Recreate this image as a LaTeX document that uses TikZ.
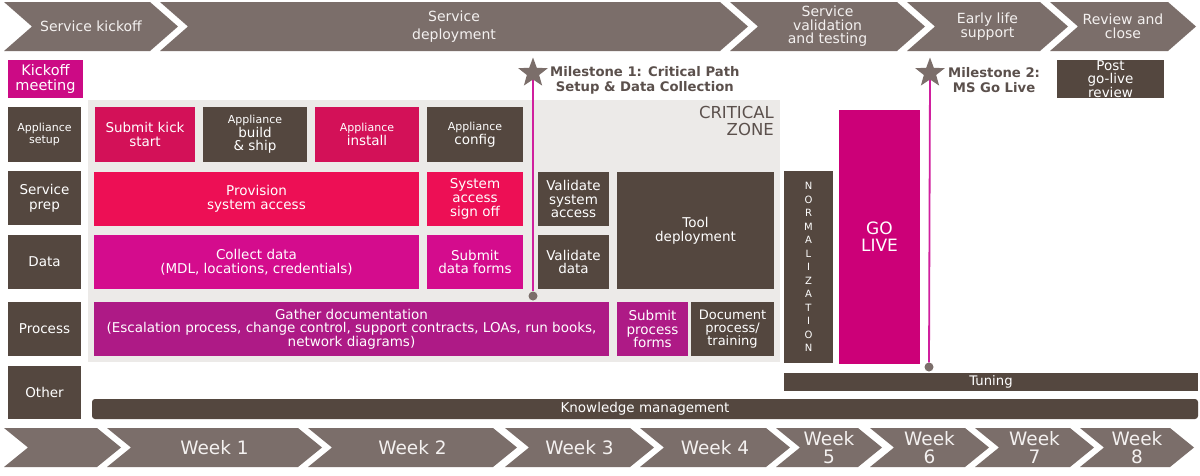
\documentclass[tikz,border=0pt]{standalone}
\usepackage{fontspec}
\setmainfont{DejaVu Sans}
\usetikzlibrary{shapes.geometric}
\definecolor{chevc}{HTML}{7B6E6A}
\definecolor{dkc}{HTML}{54473F}
\definecolor{crimc}{HTML}{D31158}
\definecolor{redc}{HTML}{ED0F55}
\definecolor{magc}{HTML}{D40C8D}
\definecolor{purc}{HTML}{AE1A86}
\definecolor{kickc}{HTML}{CC0A85}
\definecolor{goc}{HTML}{CC0078}
\definecolor{zonec}{HTML}{ECEAE8}
\definecolor{msline}{HTML}{D01F9E}
\definecolor{mstxt}{HTML}{5B504C}
\definecolor{lighttxt}{HTML}{F4F1F0}
\newcommand\smalltxt{\fontsize{11}{12}\selectfont}
\newcommand\chev[8]{%
 \pgfmathsetmacro\cmid{(#4+#5)/2}%
 \pgfmathsetmacro\ctip{#3+#6}%
 \pgfmathsetmacro\cnotch{#2+#6}%
 \pgfmathsetmacro\ccx{(#2+#3+#6)/2}%
 \fill[chevc] (#2,#4) -- (#3,#4) -- (\ctip,\cmid) -- (#3,#5) -- (#2,#5) -- (\cnotch,\cmid) -- cycle;
 \node[#8] (#1) at (\ccx,\cmid) {#7};}
\newcommand\bx[7]{%
 \pgfmathsetmacro\bw{#4-#2}\pgfmathsetmacro\bh{#5-#3}%
 \node[#6, minimum width=\bw pt, minimum height=\bh pt, anchor=north west] (#1) at (#2,#3) {#7};}
\begin{document}
\begin{tikzpicture}[x=1pt,y=-1pt,
 chevtxt/.style={text=lighttxt, align=center, inner sep=0pt, font=\fontsize{14}{13.5}\selectfont},
 wk/.style={chevtxt, font=\fontsize{18.5}{18}\selectfont},
 bxs/.style={inner sep=0pt, outer sep=0pt, align=center, text=white, font=\fontsize{13.5}{13.7}\selectfont},
 dk/.style={bxs, fill=dkc},
 crim/.style={bxs, fill=crimc},
 rd/.style={bxs, fill=redc},
 mg/.style={bxs, fill=magc},
 pu/.style={bxs, fill=purc},
 msl/.style={msline, line width=1.8pt},
 mstar/.style={star, star points=5, star point ratio=2.4, fill=chevc, minimum size=31pt, inner sep=0pt},
 mdot/.style={circle, fill=chevc, minimum size=9pt, inner sep=0pt},
 mst/.style={text=mstxt, align=center, inner sep=0pt, font=\bfseries\fontsize{13.2}{15}\selectfont}
]
\useasboundingbox (0,0) rectangle (1200,475);
\fill[white] (0,0) rectangle (1200,475);
% top phase chevrons
\chev{p1}{4}{150}{2}{51}{28}{Service kickoff}{chevtxt}
\chev{p2}{160}{720}{2}{51}{28}{Service\\[4pt]deployment}{chevtxt}
\chev{p3}{730}{897}{2}{51}{28}{Service\\validation\\and testing}{chevtxt}
\chev{p4}{907}{1040}{2}{51}{28}{Early life\\support}{chevtxt}
\chev{p5}{1050}{1168}{2}{51}{28}{Review and\\close}{chevtxt}
% bottom week chevrons
\chev{w0}{4}{97}{428}{467}{24}{}{wk}
\chev{w1}{107}{298}{428}{467}{24}{Week 1}{wk}
\chev{w2}{308}{493}{428}{467}{24}{Week 2}{wk}
\chev{w3}{505}{630}{428}{467}{24}{Week 3}{wk}
\chev{w4}{640}{766}{428}{467}{24}{Week 4}{wk}
\chev{w5}{776}{858}{428}{467}{24}{Week\\5}{wk}
\chev{w6}{870}{965}{428}{467}{24}{Week\\6}{wk}
\chev{w7}{975}{1070}{428}{467}{24}{Week\\7}{wk}
\chev{w8}{1080}{1170}{428}{467}{24}{Week\\8}{wk}
% critical zone
\fill[zonec] (88,100) rectangle (780,362);
\node[anchor=north east, align=right, text=mstxt, inner sep=0pt, font=\fontsize{16.5}{17}\selectfont] (cz) at (774,106) {CRITICAL\\ZONE};
% left column
\bx{kick}{8}{60}{83}{98}{bxs, fill=kickc, font=\fontsize{14.5}{15}\selectfont}{Kickoff\\meeting}
\bx{lapp}{8}{107}{81}{162}{dk, font=\smalltxt}{Appliance\\setup}
\bx{lsvc}{8}{171}{81}{225}{dk, font=\fontsize{13.5}{15}\selectfont}{Service\\prep}
\bx{ldat}{8}{235}{81}{289}{dk}{Data}
\bx{lpro}{8}{302}{81}{356}{dk}{Process}
\bx{loth}{8}{366}{81}{419}{dk}{Other}
% row 1
\bx{ksub}{95}{107}{195}{162}{crim}{Submit kick\\start}
\bx{abld}{203}{107}{307}{162}{dk}{\smalltxt Appliance\\build\\\& ship}
\bx{ains}{315}{107}{419}{162}{crim}{\smalltxt Appliance\\install}
\bx{acfg}{427}{107}{523}{162}{dk}{\smalltxt Appliance\\config}
% row 2
\bx{prov}{94}{172}{419}{226}{rd}{Provision\\system access}
\bx{sign}{427}{172}{523}{226}{rd}{System\\access\\sign off}
\bx{vsys}{538}{172}{609}{226}{dk}{Validate\\system\\access}
\bx{tool}{617}{172}{774}{289}{dk}{Tool\\deployment}
% row 3
\bx{coll}{94}{235}{419}{289}{mg}{Collect data\\(MDL, locations, credentials)}
\bx{sdat}{427}{235}{523}{289}{mg}{Submit\\data forms}
\bx{vdat}{538}{235}{609}{289}{dk}{Validate\\data}
% row 4
\bx{gath}{94}{302}{609}{356}{pu}{Gather documentation\\(Escalation process, change control, support contracts, LOAs, run books,\\network diagrams)}
\bx{sproc}{617}{302}{688}{356}{pu}{Submit\\process\\forms}
\bx{dproc}{691}{302}{774}{356}{dk, font=\fontsize{13}{13}\selectfont}{Document\\process/\\training}
% right side
\bx{norm}{784}{171}{833}{363}{dk, font=\fontsize{10}{13.5}\selectfont}{N\\O\\R\\M\\A\\L\\I\\Z\\A\\T\\I\\O\\N}
\bx{golive}{839}{110}{920}{364}{bxs, fill=goc, font=\fontsize{17}{17}\selectfont}{GO\\LIVE}
\bx{tune}{784}{373}{1198}{391}{dk, font=\fontsize{13.2}{13}\selectfont}{Tuning}
\bx{know}{92}{399}{1198}{419}{dk, rounded corners=3pt}{Knowledge management}
\bx{post}{1057}{60}{1164}{98}{dk, font=\fontsize{13.5}{13}\selectfont}{Post\\go-live\\review}
% milestones
\node[mdot] (d1) at (533,296) {};
\node[mdot] (d2) at (929,367) {};
\coordinate (s1c) at (533,73);
\coordinate (s2c) at (930,73);
\draw[msl] (s1c) -- (d1);
\draw[msl] (s2c) -- (d2);
\node[mstar] (s1) at (s1c) {};
\node[mstar] (s2) at (s2c) {};
\node[mst, anchor=west] (m1) at (550,80) {Milestone 1: Critical Path\\Setup \& Data Collection};
\node[mst, anchor=west] (m2) at (948,80) {Milestone 2:\\MS Go Live};
\end{tikzpicture}
\end{document}
